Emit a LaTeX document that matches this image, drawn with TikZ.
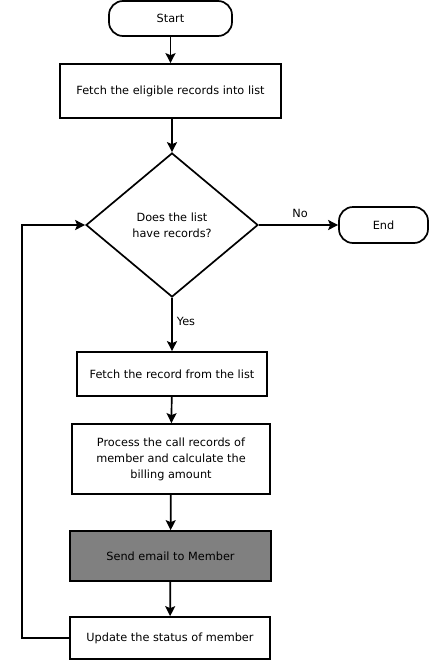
\documentclass[tikz,border=0pt]{standalone}
\usepackage{fontspec}
\setmainfont{DejaVu Sans}
\usetikzlibrary{shapes.geometric,arrows.meta}
\begin{document}
\begin{tikzpicture}[x=1pt,y=-1pt,
  every node/.style={font=\fontsize{11.3}{16}\selectfont},
  box/.style={draw,line width=1.7pt,rectangle,inner sep=0pt,align=center},
  term/.style={draw,line width=1.7pt,rounded corners=14pt,inner sep=0pt},
  conn/.style={line width=1.7pt,-{Stealth[length=10pt,width=10pt,inset=2pt]}},
  lbl/.style={inner sep=0pt}]
\useasboundingbox (0,0) rectangle (431,662);
\node[term,minimum width=123pt,minimum height=35pt] (start) at (170.5,18.5) {Start};
\node[box,minimum width=221pt,minimum height=54pt] (fetch) at (170.5,91) {Fetch the eligible records into list};
\node[draw,line width=1.7pt,diamond,aspect=1.19,minimum width=172pt,minimum height=144pt,inner sep=0pt,align=center] (dec) at (172,225) {Does the list\\have records?};
\node[term,minimum width=89pt,minimum height=36pt] (end) at (383.5,225) {End};
\node[box,minimum width=190pt,minimum height=44pt] (rec) at (172,374) {Fetch the record from the list};
\node[box,minimum width=198pt,minimum height=70pt] (proc) at (171,459) {Process the call records of\\member and calculate the\\billing amount};
\node[box,fill=black!50,minimum width=201pt,minimum height=50pt] (mail) at (170.5,556) {Send email to Member};
\node[box,minimum width=200pt,minimum height=42pt] (upd) at (170,638) {Update the status of member};
\node[lbl] (no) at (300,213) {No};
\node[lbl] (yes) at (186,321) {Yes};
\coordinate (c1) at (22,638);
\coordinate (c2) at (22,225);
\draw[conn] (start) -- (fetch);
\draw[conn] (fetch.south -| dec.north) -- (dec.north);
\draw[conn] (dec.east) -- (end.west);
\draw[conn] (dec.south) -- (rec.north -| dec.south);
\draw[conn] (rec) -- (proc);
\draw[conn] (proc) -- (mail);
\draw[conn] (mail) -- (upd);
\draw[conn] (upd.west) -- (c1) -- (c2) -- (dec.west);
\end{tikzpicture}
\end{document}
